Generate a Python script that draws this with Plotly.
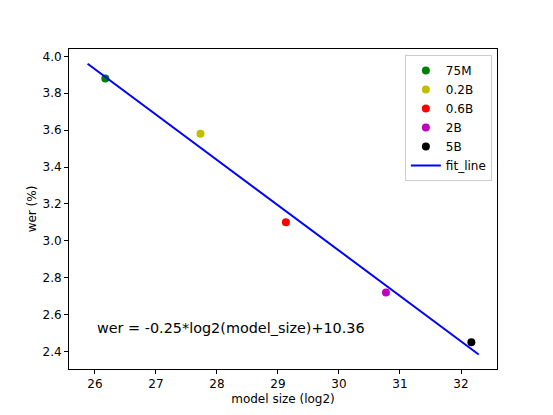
import plotly.graph_objects as go

# model sizes (log2) and wer for each model
names = ["75M", "0.2B", "0.6B", "2B", "5B"]
log2_size = [26.17, 27.73, 29.13, 30.77, 32.17]
wer = [3.88, 3.58, 3.10, 2.72, 2.45]
colors = ["#008000", "#bfbf00", "#ff0000", "#bf00bf", "#000000"]

# fitted line endpoints
fit_x = [25.88, 32.29]
fit_y = [3.96, 2.384]

font = "DejaVu Sans"

fig = go.Figure()
for name, x, y, c in zip(names, log2_size, wer, colors):
    fig.add_trace(go.Scatter(x=[x], y=[y], mode="markers", name=name,
                             marker=dict(color=c, size=8, line=dict(width=0))))

fig.add_trace(go.Scatter(x=fit_x, y=fit_y, mode="lines", name="fit_line",
                         line=dict(color="#0000ff", width=2)))

fig.add_annotation(x=26.0, y=2.53, xref="x", yref="y", xanchor="left", yanchor="middle",
                   text="wer = -0.25*log2(model_size)+10.36", showarrow=False,
                   font=dict(family=font, size=14.4, color="black"))

axis_style = dict(showline=True, linecolor="black", linewidth=1, mirror=True,
                  ticks="outside", ticklen=4, tickcolor="black", showgrid=False,
                  zeroline=False, automargin=False,
                  tickfont=dict(family=font, size=12, color="black"))

fig.update_xaxes(range=[25.575, 32.59], dtick=1, tick0=26,
                 title=dict(text="model size (log2)", standoff=4,
                            font=dict(family=font, size=12, color="black")),
                 **axis_style)
fig.update_yaxes(range=[2.305, 4.04], dtick=0.2, tick0=2.4, tickformat=".1f",
                 title=dict(text="wer (%)", standoff=3,
                            font=dict(family=font, size=12, color="black")),
                 **axis_style)

# page body has an 8px margin, so the figure is a bit smaller and shifted
fig.update_layout(
    width=545, height=407,
    margin=dict(l=61, r=56, t=41, b=46),
    plot_bgcolor="white", paper_bgcolor="white",
    font=dict(family=font, size=12, color="black"),
    legend=dict(x=0.988, y=0.981, xanchor="right", yanchor="top",
                bgcolor="rgba(255,255,255,0.8)", bordercolor="#cccccc", borderwidth=1,
                font=dict(family=font, size=12), itemwidth=30, tracegroupgap=0),
)

fig.write_html("out.html")
